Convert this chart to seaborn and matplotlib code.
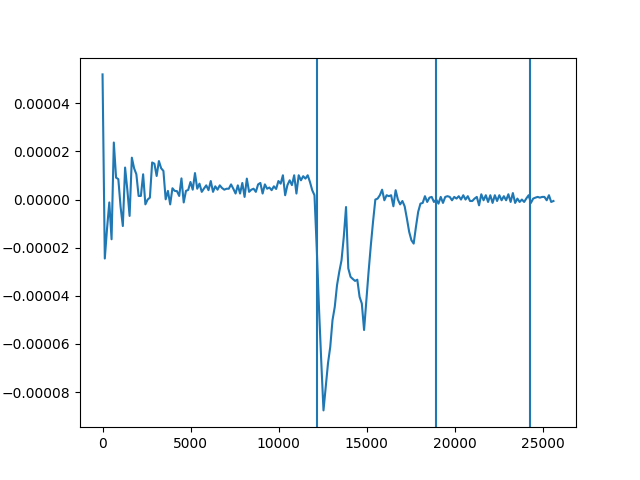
import numpy as np
import matplotlib
matplotlib.use('Agg')
import matplotlib.pyplot as plt
import seaborn as sns

# サンプル間隔とマーカー位置
step = 128
marks = [12180, 18940, 24280]

# 値 (1e-6 単位で読み取り)
vals = [
    52.0, -24.5, -12.0, -1.2, -16.5, 23.7, 9.1, 8.5, -3.0, -11.0,
    13.3, 4.0, -6.8, 17.4, 13.0, 10.5, 1.5, 1.5, 10.5, -2.0,
    0.0, 0.8, 15.4, 14.9, 9.8, 16.0, 13.0, 11.9, 0.1, 3.6,
    -2.0, 4.7, 3.6, 3.5, 1.5, 8.8, -1.2, 3.6, 4.0, 7.3,
    4.1, 11.0, 4.5, 6.6, 3.2, 4.6, 5.9, 3.9, 7.7, 3.2,
    5.5, 4.1, 5.9, 4.8, 4.1, 4.5, 4.5, 6.3, 4.5, 2.5,
    5.9, 2.5, 6.9, 1.1, 8.7, 3.2, 4.1, 4.5, 3.2, 6.3,
    6.9, 2.5, 6.3, 4.5, 5.0, 3.9, 5.5, 4.4, 7.7, 6.6,
    10.1, 1.8, 6.0, 8.0, 6.0, 10.1, 2.5, 10.1, 8.0, 9.7,
    8.7, 10.1, 7.3, 3.9, 1.8, -20.0, -45.0, -67.0, -87.6, -78.0,
    -68.0, -61.2, -50.1, -44.6, -35.6, -30.0, -25.2, -15.5, -3.1, -28.6,
    -32.1, -33.0, -33.8, -33.3, -40.4, -43.2, -54.2, -42.0, -30.0, -19.0,
    -9.0, 0.0, 0.4, 1.8, 4.1, -0.3, 1.8, 1.4, 1.8, -2.8,
    3.9, 0.0, -2.0, -0.6, -2.8, -7.9, -13.4, -16.9, -18.3, -11.4,
    -5.1, -1.7, -1.4, 1.4, -1.0, 0.8, 1.1, -1.0, 0.0, -1.7,
    1.1, -1.4, 1.1, 1.4, 1.1, -0.3, 1.1, 0.4, 1.4, 0.0,
    1.8, 0.0, 1.4, -0.6, -0.6, 0.4, 1.1, -2.4, 2.2, -0.3,
    1.8, -1.0, 1.8, -1.4, 1.8, -0.6, 1.8, -0.3, 1.4, -0.3,
    2.2, -1.0, 2.7, -1.4, 0.4, -1.0, 0.0, -1.0, 0.5, 1.8,
    -1.4, 0.4, 0.8, 1.1, 0.8, 1.1, 1.1, -0.3, 1.8, -1.0,
    -0.6,
]

y = np.array(vals) * 1e-6
x = np.arange(len(y)) * step

fig, ax = plt.subplots(figsize=(6.4, 4.8), dpi=100)
sns.lineplot(x=x, y=y, ax=ax, color='C0')
for m in marks:
    ax.axvline(m, color='C0')
# 指数表記を使わずに表示
ax.ticklabel_format(axis='y', style='plain', useOffset=False)

fig.savefig('out.png')
